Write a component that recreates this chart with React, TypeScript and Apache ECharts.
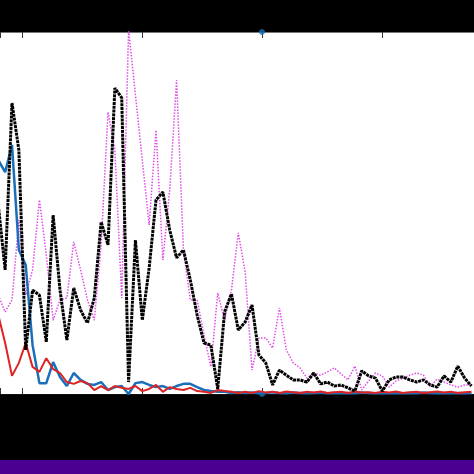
import React, { useEffect, useRef } from "react";
import * as echarts from "echarts";

// Sample values (y axis 0..100), one per sample index
const blackSeries = [
  52.2, 34.3, 80.4, 67.4, 12.2, 28.7, 27.3, 14.4, 49.4, 28.7,
  14.9, 29.3, 23.2, 19.6, 26.5, 47.5, 41.2, 84.5, 81.8, 3.3,
  42.5, 20.4, 34.8, 53.6, 55.8, 45.3, 37.6, 39.8, 31.5, 21.8,
  14.1, 13.5, 1.4, 22.7, 27.6, 17.7, 19.9, 24.6, 10.8, 8.6,
  2.5, 6.6, 5.2, 3.9, 3.9, 3.3, 5.8, 2.8, 3.3, 2.2,
  2.5, 1.7, 0.8, 6.4, 5.0, 4.4, 0.8, 3.9, 4.7, 4.7,
  3.9, 3.3, 3.9, 2.5, 1.9, 5.0, 3.3, 7.7, 4.4, 2.2,
];
const magentaSeries = [
  27.3, 22.7, 26.0, 48.1, 27.3, 34.3, 53.6, 38.4, 20.4, 26.0,
  26.5, 42.0, 34.3, 26.0, 20.4, 41.2, 77.9, 67.4, 26.5, 100.6,
  82.6, 64.6, 46.7, 72.9, 37.0, 56.4, 86.7, 39.8, 26.0, 26.0,
  16.3, 7.5, 27.9, 20.4, 28.7, 44.5, 33.7, 6.6, 15.5, 15.5,
  12.7, 23.8, 12.2, 8.6, 7.2, 4.4, 5.8, 5.2, 6.1, 7.2,
  5.5, 3.9, 7.7, 1.1, 3.6, 5.8, 5.0, 1.9, 3.6, 4.4,
  5.2, 5.8, 5.2, 2.2, 4.1, 3.3, 2.5, 1.9, 2.5, 2.5,
];
const blueSeries = [
  64.6, 61.3, 68.8, 39.8, 35.6, 13.5, 3.0, 3.0, 8.8, 4.7,
  2.2, 5.8, 3.9, 2.8, 2.5, 3.3, 1.1, 1.9, 2.2, 0,
  3.0, 3.3, 2.5, 1.9, 2.2, 1.4, 2.2, 2.8, 2.8, 1.9,
  1.1, 0.8, 0.6, 0.6, 0.3, 0.5, 0.3, 0.4, 0.2, 0.3,
  0.5, 0.3, 0.2, 0.4, 0.3, 0.2, 0.3, 0.4, 0.2, 0.3,
  0.2, 0.3, 0.2, 0.4, 0.3, 0.2, 0.3, 0.2, 0.3, 0.2,
  0.3, 0.2, 0.4, 0.3, 0.2, 0.3, 0.2, 0.3, 0.2, 0.3,
];
const redSeries = [
  21.8, 14.1, 5.0, 8.6, 14.1, 7.5, 6.1, 9.9, 6.9, 5.8,
  3.3, 2.8, 3.6, 3.0, 1.1, 2.2, 1.1, 2.2, 1.7, 1.4,
  2.2, 0.8, 1.4, 2.5, 0.6, 1.9, 1.4, 1.1, 1.7, 0.8,
  0.6, 0.3, 1.1, 0.8, 0.6, 0.3, 0.6, 0.3, 0.8, 0.4,
  0.6, 0.3, 0.7, 0.5, 0.3, 0.6, 0.4, 0.7, 0.3, 0.5,
  0.6, 0.3, 0.7, 0.4, 0.5, 0.3, 0.6, 0.4, 0.7, 0.3,
  0.5, 0.6, 0.3, 0.5, 0.7, 0.4, 0.6, 0.3, 0.5, 0.6,
];
// Sample-index range visible in the plot
const X_MIN = 0.25;
const X_MAX = 69.37;
// Tick axis (its own units: ticks every 20)
const TICK_MIN = -3.667;
const TICK_MAX = 75.333;
const TICK_STEP = 20;
const markerPoints = [
  [38.46, 100],
  [38.46, 0],
];

const pairs = (vals: number[]) => vals.map((v, i) => [i, v]);

export default function App() {
  const ref = useRef<HTMLDivElement>(null);
  useEffect(() => {
    if (!ref.current) return;
    const chart = echarts.init(ref.current, null, { renderer: "svg" });
    const dataAxis = {
      type: "value",
      min: X_MIN,
      max: X_MAX,
      axisLabel: { show: false },
      splitLine: { show: false },
      axisTick: { show: false },
    };
    const tickAxis = {
      type: "value",
      min: TICK_MIN,
      max: TICK_MAX,
      minInterval: TICK_STEP,
      maxInterval: TICK_STEP,
      splitNumber: 4,
      axisLabel: { show: false },
      splitLine: { show: false },
      axisLine: { show: false },
      axisTick: {
        show: true,
        inside: true,
        length: 6,
        lineStyle: { color: "#333", width: 1 },
      },
    };
    chart.setOption({
      animation: false,
      backgroundColor: "#000",
      grid: {
        left: 0,
        right: 0,
        top: 32,
        bottom: 80,
        show: true,
        backgroundColor: "#fff",
        borderWidth: 0,
      },
      xAxis: [
        { ...dataAxis, position: "bottom", axisLine: { show: true, lineStyle: { color: "#111", width: 1 } } },
        { ...dataAxis, position: "top", axisLine: { show: true, lineStyle: { color: "#777", width: 1 } } },
        { ...tickAxis, position: "bottom" },
        { ...tickAxis, position: "top" },
      ],
      yAxis: { type: "value", min: 0, max: 100, show: false, splitLine: { show: false } },
      series: [
        {
          type: "line",
          data: pairs(magentaSeries),
          showSymbol: false,
          lineStyle: { color: "#e04ce6", width: 1.5, type: [1.5, 1.5] },
        },
        {
          type: "line",
          data: pairs(blueSeries),
          showSymbol: false,
          lineStyle: { color: "#1a6fb8", width: 2.5 },
        },
        {
          type: "line",
          data: pairs(redSeries),
          showSymbol: false,
          lineStyle: { color: "#dd2424", width: 2 },
        },
        {
          type: "line",
          data: pairs(blackSeries),
          showSymbol: false,
          lineStyle: { color: "#000", width: 3, type: [3, 0.8] },
        },
        {
          type: "scatter",
          data: markerPoints,
          symbol: "circle",
          symbolSize: 6,
          clip: false,
          itemStyle: { color: "#1a6fb8" },
        },
      ],
      graphic: [
        {
          type: "rect",
          shape: { x: 0, y: 460, width: 474, height: 14 },
          style: { fill: "#4b0092" },
        },
      ],
    });
    return () => chart.dispose();
  }, []);
  return (
    <div
      ref={ref}
      style={{ position: "fixed", left: 0, top: 0, width: 474, height: 474 }}
    />
  );
}
